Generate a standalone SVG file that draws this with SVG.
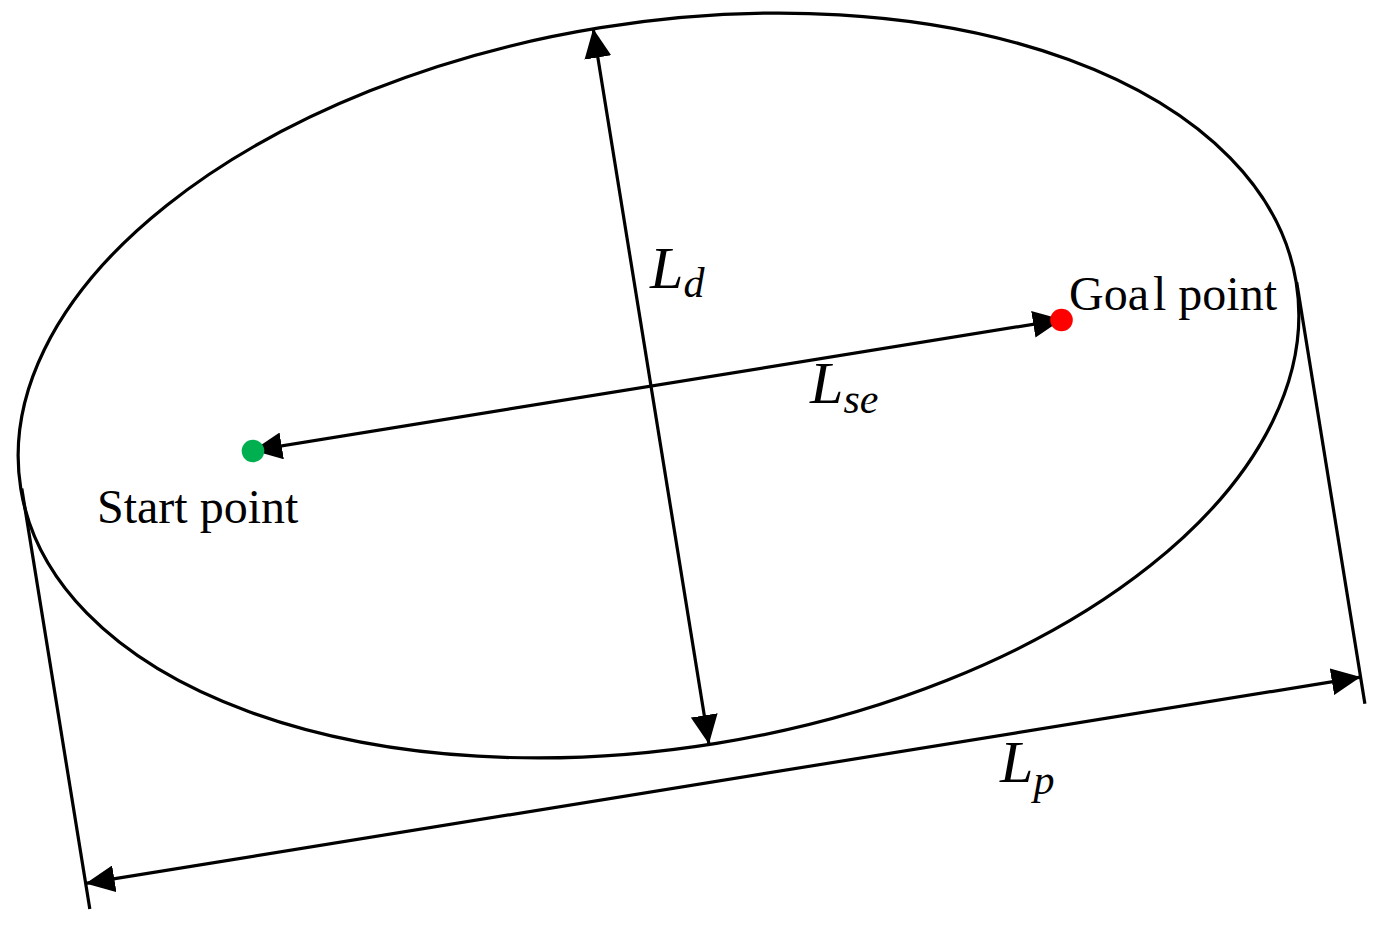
<svg xmlns="http://www.w3.org/2000/svg" width="1393" height="928" viewBox="0 0 1393 928">
  <defs>
    <marker id="arrow" markerUnits="userSpaceOnUse" markerWidth="29" markerHeight="27" viewBox="0 0 29 27" refX="29" refY="13.5" orient="auto-start-reverse">
      <path d="M0,0 L29,13.5 L0,27 z" fill="#000"/>
    </marker>
    <style>
      .line { stroke: #000; stroke-width: 3.2; fill: none; }
      .dim { marker-start: url(#arrow); marker-end: url(#arrow); }
      .lbl { font-family: "Liberation Serif", "Times New Roman", serif; font-size: 48px; fill: #000; }
      .sym { font-family: "Liberation Serif", "Times New Roman", serif; font-style: italic; font-size: 60px; fill: #000; }
      .sub { font-size: 42px; }
    </style>
  </defs>
  <rect width="1393" height="928" fill="#fff"/>
  <g id="ellipse" transform="translate(658.5 385.5) rotate(-9.19)">
    <ellipse class="line" cx="0" cy="0" rx="646" ry="362.5"/>
  </g>
  <g id="connectors" transform="translate(658.5 385.5) rotate(-9.19)">
    <line class="line" x1="-645" y1="0" x2="-645" y2="426"/>
    <line class="line" x1="646.5" y1="0" x2="646.5" y2="427"/>
    <line class="line dim" x1="-645" y1="400" x2="646.5" y2="400"/>
    <line class="line dim" x1="-7.5" y1="-362.5" x2="-7.5" y2="362"/>
    <line class="line dim" x1="-410.6" y1="-0.6" x2="408.8" y2="-0.6"/>
  </g>
  <g id="start-point">
    <circle cx="253" cy="451" r="11.3" fill="#00B050"/>
    <text class="lbl" x="97" y="523">Start point</text>
  </g>
  <g id="goal-point">
    <circle cx="1061.5" cy="320" r="11.3" fill="#FF0000"/>
    <text class="lbl" x="1069" y="310">Goa<tspan dx="4">l point</tspan></text>
  </g>
  <g id="labels">
    <text class="sym" x="650" y="288">L<tspan class="sub" dy="9">d</tspan></text>
    <text class="sym" x="810" y="403">L<tspan class="sub" dy="10">se</tspan></text>
    <text class="sym" x="1000" y="782">L<tspan class="sub" dy="12">p</tspan></text>
  </g>
</svg>
